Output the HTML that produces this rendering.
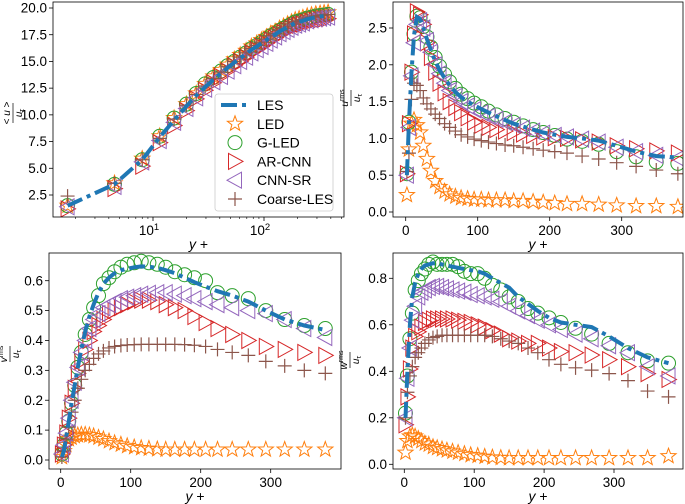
<!DOCTYPE html>
<html><head><meta charset="utf-8"><style>
html,body{margin:0;padding:0;background:#fff;}
svg{display:block;font-family:"Liberation Sans","DejaVu Sans",sans-serif;}
</style></head><body>
<svg id="chart" width="685" height="504" viewBox="0 0 685 504"></svg>
<script>
const yplus = [1.7,4.5,8,11.5,15.5,20,24.5,29.5,35,41,47,54,61,69,77,86,95,105,115,126,138,150,163,177,191,207,224,245,268,293,320,348,378];
const seriesNames = ["LES","LED","G-LED","AR-CNN","CNN-SR","Coarse-LES"];
// Panel A: mean velocity
const meanLES = [1.5,3.5,5.8,7.9,9.5,10.8,11.8,12.6,13.3,13.9,14.4,14.9,15.3,15.7,16.1,16.4,16.7,17.0,17.3,17.5,17.8,18.0,18.2,18.4,18.6,18.7,18.8,18.95,19.05,19.15,19.2,19.25,19.3];
const meanLED = [1.5,3.6,5.9,8.0,9.7,11.0,12.0,12.9,13.6,14.2,14.7,15.2,15.6,16.0,16.4,16.7,17.0,17.3,17.6,17.8,18.1,18.3,18.5,18.7,18.9,19.0,19.1,19.25,19.35,19.45,19.5,19.55,19.6];
const meanGLED = [1.5,3.5,5.8,8.0,9.7,11.0,12.0,12.9,13.5,14.1,14.6,15.0,15.4,15.8,16.2,16.5,16.8,17.1,17.4,17.6,17.9,18.1,18.3,18.5,18.7,18.8,18.9,19.05,19.15,19.25,19.3,19.35,19.4];
const meanAR = [1.2,3.1,5.2,7.4,9.0,10.4,11.5,12.3,13.0,13.6,14.1,14.6,15.0,15.4,15.8,16.1,16.4,16.7,17.0,17.2,17.5,17.7,17.9,18.1,18.3,18.4,18.5,18.65,18.75,18.85,18.9,18.95,19.0];
const meanCNN = [1.4,3.3,5.6,7.6,9.3,10.6,11.6,12.4,13.1,13.6,14.1,14.6,15.0,15.4,15.8,16.1,16.4,16.7,17.0,17.3,17.6,17.8,18.0,18.2,18.4,18.5,18.6,18.8,18.9,19.0,19.05,19.1,19.15];
const meanCoarse = [2.4,3.6,5.8,7.8,9.6,10.9,11.9,12.7,13.4,14.0,14.5,15.0,15.4,15.8,16.2,16.5,16.8,17.1,17.4,17.6,17.9,18.1,18.3,18.5,18.7,18.8,18.9,19.05,19.15,19.25,19.3,19.35,19.4];
// Panel B: u rms
const uLES = [0.5,1.2,1.9,2.4,2.65,2.62,2.5,2.35,2.2,2.05,1.93,1.82,1.72,1.63,1.56,1.5,1.45,1.4,1.35,1.3,1.25,1.2,1.16,1.12,1.08,1.05,1.02,1.0,0.97,0.9,0.82,0.76,0.74];
const uLED = [0.23,0.85,1.2,1.25,1.18,1.08,0.9,0.72,0.56,0.42,0.34,0.28,0.24,0.21,0.19,0.18,0.17,0.17,0.16,0.16,0.16,0.15,0.15,0.14,0.13,0.12,0.11,0.11,0.1,0.09,0.08,0.08,0.07];
const uGLED = [0.52,1.22,1.9,2.42,2.66,2.64,2.52,2.38,2.24,2.1,1.98,1.87,1.77,1.68,1.6,1.54,1.48,1.43,1.37,1.32,1.27,1.22,1.17,1.12,1.08,1.04,0.99,0.96,0.92,0.82,0.75,0.68,0.66];
const uAR = [0.52,1.2,1.9,2.42,2.72,2.68,2.55,2.3,2.1,1.9,1.75,1.62,1.5,1.42,1.35,1.28,1.22,1.18,1.15,1.12,1.1,1.08,1.06,1.04,1.02,1.01,1.0,0.98,0.95,0.9,0.86,0.83,0.8];
const uCNN = [0.5,1.15,1.85,2.3,2.55,2.6,2.5,2.33,2.17,2.0,1.88,1.75,1.65,1.57,1.5,1.44,1.39,1.35,1.3,1.26,1.22,1.18,1.14,1.1,1.07,1.04,1.02,0.99,0.95,0.88,0.82,0.77,0.73];
const uCoarse = [0.55,0.8,1.53,1.75,1.72,1.65,1.55,1.47,1.4,1.33,1.27,1.2,1.15,1.1,1.05,1.02,0.99,0.97,0.95,0.93,0.91,0.9,0.88,0.86,0.84,0.82,0.8,0.76,0.72,0.67,0.62,0.57,0.52];
// Panel C: v rms
const vLES = [0.01,0.03,0.08,0.13,0.19,0.25,0.31,0.37,0.43,0.48,0.52,0.56,0.59,0.61,0.625,0.635,0.64,0.645,0.648,0.647,0.643,0.635,0.625,0.61,0.595,0.58,0.565,0.55,0.53,0.5,0.47,0.45,0.435];
const vLED = [0.01,0.03,0.05,0.07,0.075,0.08,0.083,0.085,0.085,0.083,0.08,0.075,0.07,0.063,0.057,0.052,0.047,0.043,0.04,0.038,0.036,0.035,0.035,0.035,0.035,0.035,0.035,0.035,0.035,0.035,0.035,0.035,0.035];
const vGLED = [0.02,0.05,0.09,0.13,0.19,0.25,0.31,0.36,0.42,0.47,0.51,0.55,0.59,0.61,0.63,0.645,0.655,0.66,0.665,0.66,0.655,0.645,0.63,0.62,0.61,0.6,0.56,0.55,0.54,0.5,0.47,0.45,0.44];
const vAR = [0.02,0.05,0.09,0.14,0.19,0.24,0.29,0.33,0.37,0.4,0.43,0.45,0.47,0.49,0.5,0.51,0.52,0.53,0.535,0.535,0.53,0.52,0.51,0.5,0.48,0.46,0.44,0.42,0.4,0.38,0.37,0.36,0.35];
const vCNN = [0.02,0.05,0.09,0.14,0.2,0.26,0.31,0.36,0.4,0.44,0.47,0.49,0.51,0.52,0.53,0.54,0.545,0.55,0.555,0.558,0.56,0.56,0.555,0.55,0.54,0.53,0.52,0.51,0.5,0.49,0.47,0.44,0.41];
const vCoarse = [0.01,0.03,0.07,0.11,0.16,0.2,0.24,0.27,0.3,0.32,0.34,0.355,0.365,0.375,0.38,0.383,0.385,0.386,0.387,0.387,0.387,0.387,0.387,0.386,0.384,0.38,0.37,0.36,0.35,0.33,0.315,0.3,0.29];
// Panel D: w rms
const wLES = [0.2,0.4,0.6,0.72,0.78,0.82,0.84,0.855,0.86,0.865,0.865,0.86,0.855,0.85,0.845,0.84,0.835,0.83,0.82,0.8,0.78,0.76,0.72,0.69,0.66,0.63,0.61,0.6,0.59,0.55,0.5,0.46,0.435];
const wLED = [0.05,0.1,0.12,0.125,0.12,0.11,0.1,0.09,0.085,0.075,0.07,0.065,0.06,0.055,0.05,0.045,0.04,0.037,0.033,0.03,0.028,0.027,0.027,0.027,0.027,0.027,0.027,0.027,0.027,0.027,0.027,0.027,0.035];
const wGLED = [0.22,0.38,0.54,0.65,0.75,0.79,0.82,0.84,0.86,0.87,0.86,0.86,0.86,0.86,0.85,0.83,0.82,0.82,0.8,0.77,0.75,0.72,0.7,0.67,0.65,0.63,0.61,0.585,0.56,0.52,0.48,0.445,0.435];
const wAR = [0.17,0.29,0.41,0.5,0.55,0.57,0.59,0.61,0.62,0.625,0.625,0.625,0.625,0.625,0.62,0.615,0.61,0.6,0.59,0.575,0.56,0.54,0.53,0.52,0.52,0.5,0.485,0.48,0.47,0.45,0.42,0.39,0.365];
const wCNN = [0.2,0.37,0.5,0.62,0.68,0.72,0.74,0.75,0.76,0.765,0.765,0.76,0.755,0.75,0.745,0.74,0.73,0.725,0.72,0.71,0.7,0.68,0.66,0.64,0.62,0.6,0.58,0.56,0.54,0.51,0.48,0.42,0.38];
const wCoarse = [0.2,0.31,0.38,0.42,0.46,0.48,0.5,0.52,0.535,0.545,0.55,0.555,0.555,0.555,0.555,0.555,0.555,0.555,0.555,0.55,0.54,0.53,0.52,0.5,0.48,0.45,0.43,0.415,0.405,0.39,0.36,0.315,0.29];

const ticksA = ["2.5","5.0","7.5","10.0","12.5","15.0","17.5","20.0"];
const ticksB = ["0.0","0.5","1.0","1.5","2.0","2.5"];
const ticksC = ["0.0","0.1","0.2","0.3","0.4","0.5","0.6"];
const ticksD = ["0.0","0.2","0.4","0.6","0.8"];
const ticksLin = ["0","100","200","300"];

const NS="http://www.w3.org/2000/svg";
const svg=document.getElementById('chart');
const colors={"LED":"#ff7f0e","G-LED":"#2ca02c","AR-CNN":"#d62728","CNN-SR":"#9467bd","Coarse-LES":"#8c564b","LES":"#1f77b4"};
function mk(tag,attrs,parent){const e=document.createElementNS(NS,tag);for(const k in attrs)e.setAttribute(k,attrs[k]);(parent||svg).appendChild(e);return e;}

function marker(g,name,x,y){
  const c=colors[name];let e;
  if(name==="LED"){
    let pts=[];for(let i=0;i<10;i++){const r=i%2?3.3:8;const a=-Math.PI/2+i*Math.PI/5;pts.push((x+r*Math.cos(a)).toFixed(1)+","+(y+r*Math.sin(a)).toFixed(1));}
    e=mk('polygon',{points:pts.join(' '),fill:'none',stroke:c,'stroke-width':1},g);
  }else if(name==="G-LED"){
    e=mk('circle',{cx:x,cy:y,r:7,fill:'none',stroke:c,'stroke-width':1},g);
  }else if(name==="AR-CNN"){
    e=mk('polygon',{points:`${x-6.5},${y-8} ${x+8},${y} ${x-6.5},${y+8}`,fill:'none',stroke:c,'stroke-width':1},g);
  }else if(name==="CNN-SR"){
    e=mk('polygon',{points:`${x+6.5},${y-8} ${x-8},${y} ${x+6.5},${y+8}`,fill:'none',stroke:c,'stroke-width':1},g);
  }else{
    e=mk('path',{d:`M${x-7},${y}H${x+7}M${x},${y-7}V${y+7}`,fill:'none',stroke:c,'stroke-width':1.2},g);
  }
  
  
}

function panel(o){
  const g=mk('g',{});
  
  
  const sx=o.sx, sy=o.sy;
  const cp=mk('clipPath',{id:'clip-'+o.id},g);
  mk('rect',{x:o.L,y:o.T,width:o.R-o.L,height:o.B-o.T},cp);
  const yt=mk('g',{},g);
  
  
  o.yticks.forEach(t=>{const y=sy(parseFloat(t));
    mk('line',{x1:o.L-4,x2:o.L,y1:y,y2:y,stroke:'#000','stroke-width':0.8},yt);
    const tx=mk('text',{x:o.L-6,y:y+4.6,'text-anchor':'end','font-size':13.5,fill:'#000'},yt);tx.textContent=t;
    
    
  });
  const xt=mk('g',{},g);
  
  
  if(o.log){
    for(let d=0;d<3;d++)for(let m=1;m<10;m++){const v=m*Math.pow(10,d);const x=sx(v);
      if(x<o.L||x>o.R)continue;
      mk('line',{x1:x,x2:x,y1:o.B,y2:o.B+(m===1?4:2),stroke:'#000','stroke-width':m===1?0.8:0.6},xt);
      if(m===1){const tx=mk('text',{x:x-4,y:o.B+18,'text-anchor':'middle','font-size':13.5},xt);
        tx.innerHTML='10<tspan dy="-5" font-size="9.5">'+d+'</tspan>';
        
        }
    }
  }else{
    ticksLin.forEach(t=>{const x=sx(parseFloat(t));
      mk('line',{x1:x,x2:x,y1:o.B,y2:o.B+4,stroke:'#000','stroke-width':0.8},xt);
      const tx=mk('text',{x:x,y:o.B+18,'text-anchor':'middle','font-size':13.5},xt);tx.textContent=t;
      
      });
  }
  const dg=mk('g',{'clip-path':`url(#clip-${o.id})`},g);
  const order=["LED","G-LED","AR-CNN","CNN-SR","Coarse-LES"];
  order.forEach(n=>{const sg=mk('g',{},dg);
    
    
    o.data[n].forEach((v,i)=>marker(sg,n,sx(yplus[i]),sy(v)));});
  const d=o.data["LES"].map((v,i)=>(i?'L':'M')+sx(yplus[i]).toFixed(1)+','+sy(v).toFixed(1)).join('');
  const ln=mk('path',{d:d,fill:'none',stroke:'#1f77b4','stroke-width':4,'stroke-dasharray':'16,5,4,5'},dg);
  
  
  const fr=mk('rect',{x:o.L,y:o.T,width:o.R-o.L,height:o.B-o.T,fill:'none',stroke:'#000','stroke-width':0.8},g);
  
  
  const xl=mk('text',{x:(o.L+o.R)/2,y:o.B+32,'text-anchor':'middle','font-size':14},g);
  xl.innerHTML='<tspan font-style="italic">y</tspan> +';
  
  
  const yl=mk('g',{transform:`translate(${o.lx},${o.ly}) rotate(-90)`},g);
  
  
  const n1=mk('text',{x:0,y:-3,'text-anchor':'middle','font-size':10},yl);n1.innerHTML=o.num;
  mk('line',{x1:-o.fw/2,x2:o.fw/2,y1:0,y2:0,stroke:'#000','stroke-width':0.7},yl);
  const n2=mk('text',{x:0,y:9,'text-anchor':'middle','font-size':10},yl);n2.innerHTML='<tspan font-style="italic">u</tspan><tspan font-size="7" dy="2">τ</tspan>';
  return g;
}
function lin(a0,p0,a1,p1){return v=>p0+(v-a0)*(p1-p0)/(a1-a0);}

panel({id:'panel-mean-velocity',L:53,R:344,T:2,B:217,log:true,
  sx:v=>153+111*Math.log10(v/10), sy:lin(2.5,195,20,8), yticks:ticksA,
  data:{"LES":meanLES,"LED":meanLED,"G-LED":meanGLED,"AR-CNN":meanAR,"CNN-SR":meanCNN,"Coarse-LES":meanCoarse},
  lx:13,ly:113,fw:20,num:'&lt; <tspan font-style="italic">u</tspan> &gt;'});
panel({id:'panel-u-rms',L:393,R:683,T:2,B:217,
  sx:lin(0,405.7,300,621.7), sy:lin(0,212,2.5,28), yticks:ticksB,
  data:{"LES":uLES,"LED":uLED,"G-LED":uGLED,"AR-CNN":uAR,"CNN-SR":uCNN,"Coarse-LES":uCoarse},
  lx:351,ly:98,fw:16,num:'<tspan font-style="italic">u</tspan><tspan font-size="7" dy="-4">rms</tspan>'});
panel({id:'panel-v-rms',L:49,R:341,T:253,B:469,
  sx:lin(0,60.7,300,270.7), sy:lin(0,460,0.6,280.7), yticks:ticksC,
  data:{"LES":vLES,"LED":vLED,"G-LED":vGLED,"AR-CNN":vAR,"CNN-SR":vCNN,"Coarse-LES":vCoarse},
  lx:10,ly:354,fw:16,num:'<tspan font-style="italic">v</tspan><tspan font-size="7" dy="-4">rms</tspan>'});
panel({id:'panel-w-rms',L:393,R:683,T:253,B:469,
  sx:lin(0,404.3,300,614), sy:lin(0,464.3,0.8,278.3), yticks:ticksD,
  data:{"LES":wLES,"LED":wLED,"G-LED":wGLED,"AR-CNN":wAR,"CNN-SR":wCNN,"Coarse-LES":wCoarse},
  lx:350,ly:360,fw:16,num:'<tspan font-style="italic">w</tspan><tspan font-size="7" dy="-4">rms</tspan>'});

const lg=mk('g',{});


mk('rect',{x:215,y:94,width:118,height:117,rx:3,fill:'#fff','fill-opacity':0.85,stroke:'#ccc','stroke-width':0.8},lg);
seriesNames.forEach((n,i)=>{
  const y=105+i*18.8;
  const eg=mk('g',{},lg);
  
  
  if(n==="LES") mk('path',{d:`M221,${y}H249`,stroke:'#1f77b4','stroke-width':4,'stroke-dasharray':'16,5,4,5'},eg);
  else marker(eg,n,235,y);
  const t=mk('text',{x:257,y:y+5,'font-size':14},eg);t.textContent=n;
});
</script>
</body></html>
